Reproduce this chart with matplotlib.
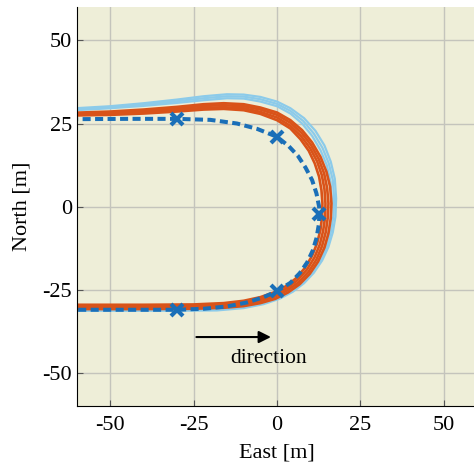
import matplotlib.pyplot as plt

plt.rcParams['font.family'] = ['Liberation Serif', 'DejaVu Serif']
plt.rcParams['axes.unicode_minus'] = False

# reference path (dashed) and its waypoints
ref_x = [-62, -45, -30, -20, -12, -6, 0, 3.5, 6.3, 8.5, 10.5, 11.8, 12.6, 12.7, 12.5, 11.8, 10.7, 9.0, 6.8, 4.0, 0, -4, -9, -15, -22, -30, -45, -62]
ref_y = [26.3, 26.4, 26.4, 26.1, 25.0, 23.4, 21.0, 18.2, 15.2, 11.8, 8.0, 4.0, 0, -2.2, -5.5, -9.5, -13.2, -16.8, -20.0, -22.9, -25.4, -27.2, -28.8, -30.0, -30.7, -31.0, -31.0, -31.0]
wp_x = [-30, 0, 12.7, 0, -30]
wp_y = [26.3, 21.0, -2.2, -25.4, -31.0]

# driven runs, controller A (orange)
run_a_x = [
    [-62, -50, -40, -30, -22, -16, -10, -5, 0, 4, 7, 9.5, 11.3, 12.6, 13.3, 13.6, 13.5, 13.0, 12.0, 10.5, 8.3, 5.5, 2.5, -1, -5, -10, -16, -25, -40, -62],
    [-62, -50, -40, -30, -22, -16, -10, -5, 0, 4, 7.2, 9.9, 12.0, 13.4, 14.2, 14.5, 14.4, 13.8, 12.8, 11.2, 8.9, 6.0, 2.8, -0.8, -5, -10, -16, -25, -40, -62],
    [-62, -50, -40, -30, -22, -16, -10, -5, 0, 4, 7.4, 10.2, 12.5, 14.1, 15.0, 15.4, 15.2, 14.6, 13.5, 11.8, 9.4, 6.4, 3.0, -0.6, -5, -10, -16, -25, -40, -62],
    [-62, -50, -40, -30, -22, -16, -10, -5, 0, 4, 7.5, 10.5, 13.0, 14.8, 15.9, 16.3, 16.1, 15.4, 14.2, 12.3, 9.8, 6.8, 3.3, -0.5, -5, -10, -16, -25, -40, -62],
]
run_a_y = [
    [27.4, 27.6, 28.0, 28.6, 29.2, 29.4, 29.0, 27.9, 26.0, 23.5, 20.3, 16.8, 13.0, 9.0, 5.0, 1.0, -3.0, -7.0, -11.0, -14.8, -18.5, -21.7, -24.0, -25.8, -27.2, -28.3, -29.0, -29.4, -29.5, -29.5],
    [27.6, 27.9, 28.4, 29.1, 29.7, 29.9, 29.6, 28.5, 26.8, 24.3, 21.2, 17.6, 13.6, 9.5, 5.3, 1.0, -3.2, -7.3, -11.4, -15.3, -19.0, -22.2, -24.6, -26.4, -27.8, -28.9, -29.5, -29.8, -29.9, -29.9],
    [27.9, 28.2, 28.8, 29.6, 30.3, 30.5, 30.2, 29.2, 27.6, 25.2, 22.1, 18.5, 14.3, 10.0, 5.6, 1.0, -3.3, -7.6, -11.8, -15.9, -19.6, -22.8, -25.2, -27.0, -28.4, -29.4, -30.0, -30.3, -30.4, -30.4],
    [28.2, 28.6, 29.2, 30.0, 30.8, 31.1, 30.8, 29.8, 28.3, 26.0, 23.0, 19.3, 15.0, 10.5, 6.0, 1.0, -3.5, -8.0, -12.3, -16.5, -20.2, -23.3, -25.8, -27.7, -29.0, -29.9, -30.4, -30.7, -30.8, -30.8],
]

# driven runs, controller B (light blue)
run_b_x = [
    [-62, -50, -40, -30, -22, -15, -10, -5, 0, 4, 7.5, 10.5, 13.0, 14.9, 16.0, 16.4, 16.2, 15.6, 14.5, 12.8, 10.5, 7.7, 4.3, 0.5, -4, -10, -18, -30, -62],
    [-62, -50, -40, -30, -22, -15, -10, -5, 0, 4, 7.8, 11.0, 13.6, 15.5, 16.7, 17.1, 16.9, 16.2, 15.0, 13.2, 10.8, 7.9, 4.5, 0.6, -4, -10, -18, -30, -62],
    [-62, -50, -40, -30, -22, -15, -10, -5, 0, 4, 8.1, 11.5, 14.2, 16.1, 17.3, 17.7, 17.5, 16.7, 15.4, 13.5, 11.0, 8.1, 4.7, 0.7, -4, -10, -18, -30, -62],
]
run_b_y = [
    [28.9, 29.6, 30.3, 31.2, 32.0, 32.6, 32.5, 31.6, 30.2, 28.0, 25.0, 21.3, 17.0, 12.5, 7.5, 2.5, -2.5, -7.0, -11.5, -15.6, -19.3, -22.4, -25.0, -27.1, -28.7, -29.9, -30.6, -30.9, -30.9],
    [29.2, 29.9, 30.7, 31.7, 32.6, 33.2, 33.1, 32.3, 30.9, 28.8, 25.8, 22.0, 17.7, 13.0, 8.0, 2.5, -2.7, -7.3, -11.8, -15.9, -19.6, -22.7, -25.3, -27.4, -29.0, -30.2, -30.9, -31.1, -31.1],
    [29.5, 30.2, 31.1, 32.2, 33.2, 33.8, 33.7, 33.0, 31.6, 29.6, 26.6, 22.8, 18.4, 13.5, 8.4, 2.5, -3.0, -7.7, -12.1, -16.2, -19.9, -23.0, -25.6, -27.7, -29.3, -30.5, -31.2, -31.3, -31.3],
]

fig = plt.figure(figsize=(4.74, 4.74), dpi=100)
ax = fig.add_axes([0.162, 0.143, 0.845, 0.842])
ax.set_facecolor('#EEEED8')

for xs, ys in zip(run_b_x, run_b_y):
    ax.plot(xs, ys, color='#8CCBEA', lw=1.6)
for xs, ys in zip(run_a_x, run_a_y):
    ax.plot(xs, ys, color='#D95319', lw=1.9)

ax.plot(ref_x, ref_y, color='#1A6FB8', lw=2.9, dashes=(2.0, 1.1))
ax.plot(wp_x, wp_y, 'x', color='#1A6FB8', ms=9, mew=3)

ax.annotate('', xy=(-1, -39.2), xytext=(-25, -39.2),
            arrowprops=dict(arrowstyle='-|>', color='black', lw=1.5, mutation_scale=18))
ax.text(-2.4, -45.6, 'direction', ha='center', va='center', fontsize=15.5)

ax.set_xlim(-60, 60)
ax.set_ylim(-60, 60)
ax.set_xticks([-50, -25, 0, 25, 50])
ax.set_yticks([-50, -25, 0, 25, 50])
ax.grid(True, color='#C4C4BC', lw=1)
ax.set_axisbelow(True)
ax.tick_params(direction='in', labelsize=16, length=4, color='#555555')
ax.tick_params(axis='x', pad=7)
ax.set_xlabel('East [m]', fontsize=16, labelpad=6)
ax.set_ylabel('North [m]', fontsize=16, labelpad=8)
for s in ['top', 'right']:
    ax.spines[s].set_visible(False)

fig.savefig('out.png', dpi=100)
